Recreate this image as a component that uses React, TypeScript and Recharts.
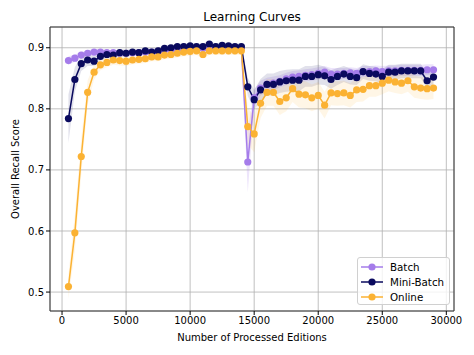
import React from 'react';
import {
  ComposedChart,
  Line,
  Area,
  XAxis,
  YAxis,
  CartesianGrid,
  ReferenceArea,
} from 'recharts';

const editions = [
  500, 1000, 1500, 2000, 2500, 3000, 3500, 4000, 4500, 5000,
  5500, 6000, 6500, 7000, 7500, 8000, 8500, 9000, 9500, 10000,
  10500, 11000, 11500, 12000, 12500, 13000, 13500, 14000, 14500, 15000,
  15500, 16000, 16500, 17000, 17500, 18000, 18500, 19000, 19500, 20000,
  20500, 21000, 21500, 22000, 22500, 23000, 23500, 24000, 24500, 25000,
  25500, 26000, 26500, 27000, 27500, 28000, 28500, 29000,
];

const batch = [
  0.879, 0.883, 0.888, 0.891, 0.893, 0.893, 0.892, 0.892, 0.891, 0.891,
  0.892, 0.892, 0.893, 0.893, 0.894, 0.896, 0.897, 0.898, 0.898, 0.899,
  0.899, 0.899, 0.9, 0.899, 0.9, 0.9, 0.899, 0.9, 0.713, 0.818,
  0.834, 0.84, 0.842, 0.845, 0.849, 0.852, 0.853, 0.855, 0.856, 0.858,
  0.86, 0.857, 0.857, 0.858, 0.859, 0.858, 0.861, 0.861, 0.862, 0.861,
  0.862, 0.862, 0.863, 0.863, 0.863, 0.863, 0.864, 0.864,
];

const miniBatch = [
  0.784, 0.848, 0.874, 0.88, 0.878, 0.886, 0.889, 0.888, 0.892, 0.891,
  0.893, 0.892, 0.895, 0.893, 0.895, 0.899, 0.9, 0.902, 0.902, 0.903,
  0.902, 0.902, 0.906, 0.902, 0.904, 0.903, 0.902, 0.902, 0.836, 0.815,
  0.831, 0.84, 0.84, 0.844, 0.846, 0.847, 0.847, 0.853, 0.853, 0.856,
  0.854, 0.848, 0.853, 0.857, 0.853, 0.851, 0.861, 0.858, 0.857, 0.853,
  0.86, 0.86, 0.862, 0.862, 0.862, 0.862, 0.846, 0.852,
];

const online = [
  0.509, 0.597, 0.722, 0.827, 0.86, 0.872, 0.876, 0.88, 0.879, 0.878,
  0.88, 0.881, 0.882, 0.885, 0.885, 0.888, 0.889, 0.891, 0.893, 0.894,
  0.895, 0.889, 0.895, 0.895, 0.895, 0.895, 0.895, 0.895, 0.771, 0.759,
  0.809, 0.827, 0.827, 0.812, 0.818, 0.833, 0.824, 0.823, 0.818, 0.822,
  0.806, 0.826, 0.825, 0.826, 0.822, 0.831, 0.832, 0.838, 0.838, 0.842,
  0.847, 0.844, 0.842, 0.846, 0.836, 0.834, 0.833, 0.834,
];

// spread (std) around each mean
const batchStd = [
  0.007, 0.006, 0.005, 0.005, 0.005, 0.005, 0.004, 0.004, 0.004, 0.004,
  0.004, 0.004, 0.004, 0.004, 0.004, 0.004, 0.004, 0.004, 0.004, 0.004,
  0.004, 0.004, 0.004, 0.004, 0.004, 0.004, 0.004, 0.004, 0.05, 0.014,
  0.012, 0.011, 0.011, 0.01, 0.01, 0.01, 0.01, 0.01, 0.01, 0.01,
  0.01, 0.01, 0.01, 0.009, 0.009, 0.009, 0.009, 0.009, 0.009, 0.009,
  0.009, 0.009, 0.009, 0.009, 0.009, 0.009, 0.009, 0.009,
];

const miniBatchStd = [
  0.04, 0.02, 0.012, 0.01, 0.008, 0.007, 0.006, 0.006, 0.006, 0.006,
  0.005, 0.005, 0.005, 0.005, 0.005, 0.005, 0.005, 0.005, 0.005, 0.005,
  0.005, 0.005, 0.005, 0.005, 0.005, 0.005, 0.005, 0.005, 0.015, 0.016,
  0.018, 0.018, 0.018, 0.018, 0.018, 0.018, 0.018, 0.017, 0.017, 0.016,
  0.015, 0.015, 0.014, 0.013, 0.013, 0.012, 0.012, 0.012, 0.012, 0.012,
  0.012, 0.012, 0.012, 0.012, 0.012, 0.012, 0.012, 0.012,
];

const onlineStd = [
  0.02, 0.03, 0.03, 0.02, 0.012, 0.009, 0.008, 0.008, 0.008, 0.008,
  0.007, 0.007, 0.007, 0.007, 0.007, 0.007, 0.007, 0.007, 0.007, 0.007,
  0.007, 0.007, 0.007, 0.007, 0.007, 0.007, 0.007, 0.007, 0.03, 0.03,
  0.024, 0.022, 0.022, 0.022, 0.022, 0.022, 0.022, 0.022, 0.022, 0.022,
  0.022, 0.02, 0.02, 0.02, 0.02, 0.02, 0.02, 0.018, 0.018, 0.018,
  0.018, 0.018, 0.018, 0.018, 0.018, 0.018, 0.018, 0.018,
];

const xTicks = [0, 5000, 10000, 15000, 20000, 25000, 30000];
const yTicks = [0.5, 0.6, 0.7, 0.8, 0.9];

const colors = {
  batch: '#a57cea',
  miniBatch: '#0a0a5e',
  online: '#fbb233',
};

const data = editions.map((x, i) => ({
  x,
  batch: batch[i],
  miniBatch: miniBatch[i],
  online: online[i],
  batchBand: [batch[i] - batchStd[i], batch[i] + batchStd[i]],
  miniBatchBand: [miniBatch[i] - miniBatchStd[i], miniBatch[i] + miniBatchStd[i]],
  onlineBand: [online[i] - onlineStd[i], online[i] + onlineStd[i]],
}));

const font = '"DejaVu Sans", sans-serif';
const tickStyle = { fontFamily: font, fontSize: 10, fill: '#000' };

const legendItems = [
  { name: 'Batch', color: colors.batch },
  { name: 'Mini-Batch', color: colors.miniBatch },
  { name: 'Online', color: colors.online },
];

export default function App() {
  return (
    <div style={{ position: 'absolute', left: 0, top: 0, width: 474, height: 355 }}>
      <ComposedChart
        width={474}
        height={355}
        data={data}
        margin={{ top: 27, right: 20, bottom: 0, left: 0 }}
      >
        <CartesianGrid stroke="#b0b0b0" strokeWidth={0.8} />
        <XAxis
          dataKey="x"
          type="number"
          domain={[-940, 30600]}
          ticks={xTicks}
          allowDataOverflow
          height={44}
          tickSize={4}
          axisLine={false}
          tickLine={{ stroke: '#000' }}
          tick={tickStyle}
        />
        <YAxis
          type="number"
          domain={[0.469, 0.934]}
          ticks={yTicks}
          allowDataOverflow
          width={50}
          tickSize={4}
          axisLine={false}
          tickLine={{ stroke: '#000' }}
          tick={tickStyle}
          tickFormatter={(v: number) => v.toFixed(1)}
        />
        <Area dataKey="batchBand" stroke="none" fill={colors.batch} fillOpacity={0.2} isAnimationActive={false} />
        <Area dataKey="miniBatchBand" stroke="none" fill={colors.miniBatch} fillOpacity={0.12} isAnimationActive={false} />
        <Area dataKey="onlineBand" stroke="none" fill={colors.online} fillOpacity={0.12} isAnimationActive={false} />
        <Line
          dataKey="batch"
          stroke={colors.batch}
          strokeWidth={1.5}
          dot={{ r: 3.6, fill: colors.batch, stroke: 'none' }}
          isAnimationActive={false}
        />
        <Line
          dataKey="miniBatch"
          stroke={colors.miniBatch}
          strokeWidth={1.5}
          dot={{ r: 3.6, fill: colors.miniBatch, stroke: 'none' }}
          isAnimationActive={false}
        />
        <Line
          dataKey="online"
          stroke={colors.online}
          strokeWidth={1.5}
          dot={{ r: 3.6, fill: colors.online, stroke: 'none' }}
          isAnimationActive={false}
        />
        <ReferenceArea
          x1={-940}
          x2={30600}
          y1={0.469}
          y2={0.934}
          fill="none"
          stroke="#333"
          strokeWidth={1}
          fillOpacity={0}
          ifOverflow="visible"
        />
      </ComposedChart>
      <svg
        width={474}
        height={355}
        style={{ position: 'absolute', left: 0, top: 0, pointerEvents: 'none' }}
      >
        <text x={252} y={21} textAnchor="middle" fontFamily={font} fontSize={12} fill="#000">
          Learning Curves
        </text>
        <text x={252} y={341} textAnchor="middle" fontFamily={font} fontSize={10} fill="#000">
          Number of Processed Editions
        </text>
        <text
          x={19}
          y={169}
          textAnchor="middle"
          fontFamily={font}
          fontSize={10}
          fill="#000"
          transform="rotate(-90 19 169)"
        >
          Overall Recall Score
        </text>
      </svg>
      <div
        style={{
          position: 'absolute',
          left: 357,
          top: 257,
          width: 93,
          height: 48,
          border: '1px solid #d0d0d0',
          borderRadius: 3,
          background: 'rgba(255,255,255,0.8)',
          fontFamily: font,
          fontSize: 10.3,
          color: '#000',
          boxSizing: 'border-box',
          paddingTop: 1,
        }}
      >
        {legendItems.map((item) => (
          <div key={item.name} style={{ display: 'flex', alignItems: 'center', height: 15 }}>
            <svg width={30} height={10} style={{ marginLeft: 2 }}>
              <line x1={1} y1={5} x2={23} y2={5} stroke={item.color} strokeWidth={1.5} />
              <circle cx={12} cy={5} r={3.6} fill={item.color} />
            </svg>
            <span>{item.name}</span>
          </div>
        ))}
      </div>
    </div>
  );
}
